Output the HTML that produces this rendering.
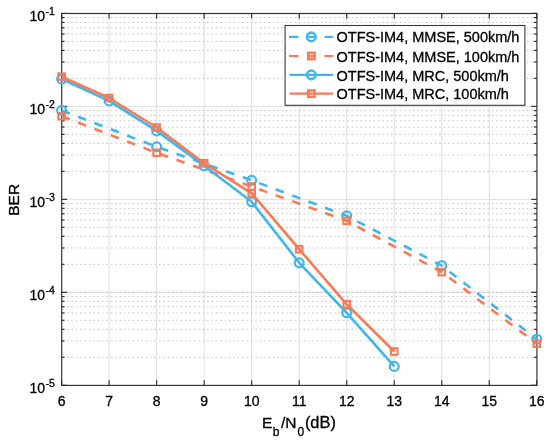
<!DOCTYPE html>
<html><head><meta charset="utf-8"><style>html,body{margin:0;padding:0;background:#fff;width:550px;height:442px;overflow:hidden}svg{display:block}</style></head>
<body>
<svg width="550" height="442" viewBox="0 0 550 442">
<rect width="550" height="442" fill="#fff"/>
<g stroke="#DEDEDE" stroke-width="1"><line x1="61.60" y1="292.32" x2="536.80" y2="292.32"/><line x1="61.60" y1="199.35" x2="536.80" y2="199.35"/><line x1="61.60" y1="106.38" x2="536.80" y2="106.38"/><line x1="109.12" y1="13.40" x2="109.12" y2="385.30"/><line x1="156.64" y1="13.40" x2="156.64" y2="385.30"/><line x1="204.16" y1="13.40" x2="204.16" y2="385.30"/><line x1="251.68" y1="13.40" x2="251.68" y2="385.30"/><line x1="299.20" y1="13.40" x2="299.20" y2="385.30"/><line x1="346.72" y1="13.40" x2="346.72" y2="385.30"/><line x1="394.24" y1="13.40" x2="394.24" y2="385.30"/><line x1="441.76" y1="13.40" x2="441.76" y2="385.30"/><line x1="489.28" y1="13.40" x2="489.28" y2="385.30"/></g>
<g stroke="#C4C4C4" stroke-width="1" stroke-dasharray="1.6 2.78"><line x1="62.52" y1="357.31" x2="536.80" y2="357.31"/><line x1="62.52" y1="340.94" x2="536.80" y2="340.94"/><line x1="62.52" y1="329.32" x2="536.80" y2="329.32"/><line x1="62.52" y1="320.31" x2="536.80" y2="320.31"/><line x1="62.52" y1="312.95" x2="536.80" y2="312.95"/><line x1="62.52" y1="306.73" x2="536.80" y2="306.73"/><line x1="62.52" y1="301.34" x2="536.80" y2="301.34"/><line x1="62.52" y1="296.58" x2="536.80" y2="296.58"/><line x1="62.52" y1="264.34" x2="536.80" y2="264.34"/><line x1="62.52" y1="247.96" x2="536.80" y2="247.96"/><line x1="62.52" y1="236.35" x2="536.80" y2="236.35"/><line x1="62.52" y1="227.34" x2="536.80" y2="227.34"/><line x1="62.52" y1="219.98" x2="536.80" y2="219.98"/><line x1="62.52" y1="213.75" x2="536.80" y2="213.75"/><line x1="62.52" y1="208.36" x2="536.80" y2="208.36"/><line x1="62.52" y1="203.60" x2="536.80" y2="203.60"/><line x1="62.52" y1="171.36" x2="536.80" y2="171.36"/><line x1="62.52" y1="154.99" x2="536.80" y2="154.99"/><line x1="62.52" y1="143.37" x2="536.80" y2="143.37"/><line x1="62.52" y1="134.36" x2="536.80" y2="134.36"/><line x1="62.52" y1="127.00" x2="536.80" y2="127.00"/><line x1="62.52" y1="120.78" x2="536.80" y2="120.78"/><line x1="62.52" y1="115.39" x2="536.80" y2="115.39"/><line x1="62.52" y1="110.63" x2="536.80" y2="110.63"/><line x1="62.52" y1="78.39" x2="536.80" y2="78.39"/><line x1="62.52" y1="62.01" x2="536.80" y2="62.01"/><line x1="62.52" y1="50.40" x2="536.80" y2="50.40"/><line x1="62.52" y1="41.39" x2="536.80" y2="41.39"/><line x1="62.52" y1="34.03" x2="536.80" y2="34.03"/><line x1="62.52" y1="27.80" x2="536.80" y2="27.80"/><line x1="62.52" y1="22.41" x2="536.80" y2="22.41"/><line x1="62.52" y1="17.65" x2="536.80" y2="17.65"/><line x1="62.52" y1="292.32" x2="536.80" y2="292.32"/></g>
<rect x="61.7" y="13.5" width="475.20" height="371.90" fill="none" stroke="#2E2E2E" stroke-width="1.15"/>
<g stroke="#2E2E2E" stroke-width="1.15"><line x1="61.60" y1="385.30" x2="61.60" y2="380.30"/><line x1="61.60" y1="13.40" x2="61.60" y2="18.40"/><line x1="109.12" y1="385.30" x2="109.12" y2="380.30"/><line x1="109.12" y1="13.40" x2="109.12" y2="18.40"/><line x1="156.64" y1="385.30" x2="156.64" y2="380.30"/><line x1="156.64" y1="13.40" x2="156.64" y2="18.40"/><line x1="204.16" y1="385.30" x2="204.16" y2="380.30"/><line x1="204.16" y1="13.40" x2="204.16" y2="18.40"/><line x1="251.68" y1="385.30" x2="251.68" y2="380.30"/><line x1="251.68" y1="13.40" x2="251.68" y2="18.40"/><line x1="299.20" y1="385.30" x2="299.20" y2="380.30"/><line x1="299.20" y1="13.40" x2="299.20" y2="18.40"/><line x1="346.72" y1="385.30" x2="346.72" y2="380.30"/><line x1="346.72" y1="13.40" x2="346.72" y2="18.40"/><line x1="394.24" y1="385.30" x2="394.24" y2="380.30"/><line x1="394.24" y1="13.40" x2="394.24" y2="18.40"/><line x1="441.76" y1="385.30" x2="441.76" y2="380.30"/><line x1="441.76" y1="13.40" x2="441.76" y2="18.40"/><line x1="489.28" y1="385.30" x2="489.28" y2="380.30"/><line x1="489.28" y1="13.40" x2="489.28" y2="18.40"/><line x1="536.80" y1="385.30" x2="536.80" y2="380.30"/><line x1="536.80" y1="13.40" x2="536.80" y2="18.40"/><line x1="61.60" y1="385.30" x2="67.10" y2="385.30"/><line x1="536.80" y1="385.30" x2="531.30" y2="385.30"/><line x1="61.60" y1="292.32" x2="67.10" y2="292.32"/><line x1="536.80" y1="292.32" x2="531.30" y2="292.32"/><line x1="61.60" y1="199.35" x2="67.10" y2="199.35"/><line x1="536.80" y1="199.35" x2="531.30" y2="199.35"/><line x1="61.60" y1="106.38" x2="67.10" y2="106.38"/><line x1="536.80" y1="106.38" x2="531.30" y2="106.38"/><line x1="61.60" y1="13.40" x2="67.10" y2="13.40"/><line x1="536.80" y1="13.40" x2="531.30" y2="13.40"/><line x1="61.60" y1="357.31" x2="64.60" y2="357.31"/><line x1="536.80" y1="357.31" x2="533.80" y2="357.31"/><line x1="61.60" y1="340.94" x2="64.60" y2="340.94"/><line x1="536.80" y1="340.94" x2="533.80" y2="340.94"/><line x1="61.60" y1="329.32" x2="64.60" y2="329.32"/><line x1="536.80" y1="329.32" x2="533.80" y2="329.32"/><line x1="61.60" y1="320.31" x2="64.60" y2="320.31"/><line x1="536.80" y1="320.31" x2="533.80" y2="320.31"/><line x1="61.60" y1="312.95" x2="64.60" y2="312.95"/><line x1="536.80" y1="312.95" x2="533.80" y2="312.95"/><line x1="61.60" y1="306.73" x2="64.60" y2="306.73"/><line x1="536.80" y1="306.73" x2="533.80" y2="306.73"/><line x1="61.60" y1="301.34" x2="64.60" y2="301.34"/><line x1="536.80" y1="301.34" x2="533.80" y2="301.34"/><line x1="61.60" y1="296.58" x2="64.60" y2="296.58"/><line x1="536.80" y1="296.58" x2="533.80" y2="296.58"/><line x1="61.60" y1="264.34" x2="64.60" y2="264.34"/><line x1="536.80" y1="264.34" x2="533.80" y2="264.34"/><line x1="61.60" y1="247.96" x2="64.60" y2="247.96"/><line x1="536.80" y1="247.96" x2="533.80" y2="247.96"/><line x1="61.60" y1="236.35" x2="64.60" y2="236.35"/><line x1="536.80" y1="236.35" x2="533.80" y2="236.35"/><line x1="61.60" y1="227.34" x2="64.60" y2="227.34"/><line x1="536.80" y1="227.34" x2="533.80" y2="227.34"/><line x1="61.60" y1="219.98" x2="64.60" y2="219.98"/><line x1="536.80" y1="219.98" x2="533.80" y2="219.98"/><line x1="61.60" y1="213.75" x2="64.60" y2="213.75"/><line x1="536.80" y1="213.75" x2="533.80" y2="213.75"/><line x1="61.60" y1="208.36" x2="64.60" y2="208.36"/><line x1="536.80" y1="208.36" x2="533.80" y2="208.36"/><line x1="61.60" y1="203.60" x2="64.60" y2="203.60"/><line x1="536.80" y1="203.60" x2="533.80" y2="203.60"/><line x1="61.60" y1="171.36" x2="64.60" y2="171.36"/><line x1="536.80" y1="171.36" x2="533.80" y2="171.36"/><line x1="61.60" y1="154.99" x2="64.60" y2="154.99"/><line x1="536.80" y1="154.99" x2="533.80" y2="154.99"/><line x1="61.60" y1="143.37" x2="64.60" y2="143.37"/><line x1="536.80" y1="143.37" x2="533.80" y2="143.37"/><line x1="61.60" y1="134.36" x2="64.60" y2="134.36"/><line x1="536.80" y1="134.36" x2="533.80" y2="134.36"/><line x1="61.60" y1="127.00" x2="64.60" y2="127.00"/><line x1="536.80" y1="127.00" x2="533.80" y2="127.00"/><line x1="61.60" y1="120.78" x2="64.60" y2="120.78"/><line x1="536.80" y1="120.78" x2="533.80" y2="120.78"/><line x1="61.60" y1="115.39" x2="64.60" y2="115.39"/><line x1="536.80" y1="115.39" x2="533.80" y2="115.39"/><line x1="61.60" y1="110.63" x2="64.60" y2="110.63"/><line x1="536.80" y1="110.63" x2="533.80" y2="110.63"/><line x1="61.60" y1="78.39" x2="64.60" y2="78.39"/><line x1="536.80" y1="78.39" x2="533.80" y2="78.39"/><line x1="61.60" y1="62.01" x2="64.60" y2="62.01"/><line x1="536.80" y1="62.01" x2="533.80" y2="62.01"/><line x1="61.60" y1="50.40" x2="64.60" y2="50.40"/><line x1="536.80" y1="50.40" x2="533.80" y2="50.40"/><line x1="61.60" y1="41.39" x2="64.60" y2="41.39"/><line x1="536.80" y1="41.39" x2="533.80" y2="41.39"/><line x1="61.60" y1="34.03" x2="64.60" y2="34.03"/><line x1="536.80" y1="34.03" x2="533.80" y2="34.03"/><line x1="61.60" y1="27.80" x2="64.60" y2="27.80"/><line x1="536.80" y1="27.80" x2="533.80" y2="27.80"/><line x1="61.60" y1="22.41" x2="64.60" y2="22.41"/><line x1="536.80" y1="22.41" x2="533.80" y2="22.41"/><line x1="61.60" y1="17.65" x2="64.60" y2="17.65"/><line x1="536.80" y1="17.65" x2="533.80" y2="17.65"/></g>
<polyline points="61.60,110.40 156.64,146.80 251.68,180.30 346.72,215.80 441.76,265.60 536.80,339.20" fill="none" stroke="#3FB7ED" stroke-width="2.6" stroke-dasharray="8.65 8.9" stroke-linejoin="round"/>
<circle cx="61.60" cy="110.40" r="4.45" fill="none" stroke="#3FB7ED" stroke-width="2.2"/><circle cx="156.64" cy="146.80" r="4.45" fill="none" stroke="#3FB7ED" stroke-width="2.2"/><circle cx="251.68" cy="180.30" r="4.45" fill="none" stroke="#3FB7ED" stroke-width="2.2"/><circle cx="346.72" cy="215.80" r="4.45" fill="none" stroke="#3FB7ED" stroke-width="2.2"/><circle cx="441.76" cy="265.60" r="4.45" fill="none" stroke="#3FB7ED" stroke-width="2.2"/><circle cx="536.80" cy="339.20" r="4.45" fill="none" stroke="#3FB7ED" stroke-width="2.2"/>
<polyline points="61.60,116.20 156.64,152.80 251.68,186.50 346.72,220.90 441.76,272.10 536.80,343.70" fill="none" stroke="#F97A54" stroke-width="2.6" stroke-dasharray="8.65 8.9" stroke-linejoin="round"/>
<rect x="58.35" y="112.95" width="6.5" height="6.5" fill="none" stroke="#F97A54" stroke-width="2.1"/><rect x="153.39" y="149.55" width="6.5" height="6.5" fill="none" stroke="#F97A54" stroke-width="2.1"/><rect x="248.43" y="183.25" width="6.5" height="6.5" fill="none" stroke="#F97A54" stroke-width="2.1"/><rect x="343.47" y="217.65" width="6.5" height="6.5" fill="none" stroke="#F97A54" stroke-width="2.1"/><rect x="438.51" y="268.85" width="6.5" height="6.5" fill="none" stroke="#F97A54" stroke-width="2.1"/><rect x="533.55" y="340.45" width="6.5" height="6.5" fill="none" stroke="#F97A54" stroke-width="2.1"/>
<polyline points="61.60,79.00 109.12,100.90 156.64,130.90 204.16,165.80 251.68,201.80 299.20,262.80 346.72,312.80 394.24,366.40" fill="none" stroke="#3FB7ED" stroke-width="2.6" stroke-linejoin="round"/>
<circle cx="61.60" cy="79.00" r="4.45" fill="none" stroke="#3FB7ED" stroke-width="2.2"/><circle cx="109.12" cy="100.90" r="4.45" fill="none" stroke="#3FB7ED" stroke-width="2.2"/><circle cx="156.64" cy="130.90" r="4.45" fill="none" stroke="#3FB7ED" stroke-width="2.2"/><circle cx="204.16" cy="165.80" r="4.45" fill="none" stroke="#3FB7ED" stroke-width="2.2"/><circle cx="251.68" cy="201.80" r="4.45" fill="none" stroke="#3FB7ED" stroke-width="2.2"/><circle cx="299.20" cy="262.80" r="4.45" fill="none" stroke="#3FB7ED" stroke-width="2.2"/><circle cx="346.72" cy="312.80" r="4.45" fill="none" stroke="#3FB7ED" stroke-width="2.2"/><circle cx="394.24" cy="366.40" r="4.45" fill="none" stroke="#3FB7ED" stroke-width="2.2"/>
<polyline points="61.60,76.60 109.12,98.00 156.64,127.50 204.16,163.20 251.68,193.30 299.20,249.20 346.72,304.30 394.24,351.50" fill="none" stroke="#F97A54" stroke-width="2.6" stroke-linejoin="round"/>
<rect x="58.35" y="73.35" width="6.5" height="6.5" fill="none" stroke="#F97A54" stroke-width="2.1"/><rect x="105.87" y="94.75" width="6.5" height="6.5" fill="none" stroke="#F97A54" stroke-width="2.1"/><rect x="153.39" y="124.25" width="6.5" height="6.5" fill="none" stroke="#F97A54" stroke-width="2.1"/><rect x="200.91" y="159.95" width="6.5" height="6.5" fill="none" stroke="#F97A54" stroke-width="2.1"/><rect x="248.43" y="190.05" width="6.5" height="6.5" fill="none" stroke="#F97A54" stroke-width="2.1"/><rect x="295.95" y="245.95" width="6.5" height="6.5" fill="none" stroke="#F97A54" stroke-width="2.1"/><rect x="343.47" y="301.05" width="6.5" height="6.5" fill="none" stroke="#F97A54" stroke-width="2.1"/><rect x="390.99" y="348.25" width="6.5" height="6.5" fill="none" stroke="#F97A54" stroke-width="2.1"/>
<g font-family="&quot;Liberation Sans&quot;, sans-serif" stroke="#000" stroke-width="0.3" font-size="14" fill="#000"><text x="61.60" y="406.2" text-anchor="middle">6</text><text x="109.12" y="406.2" text-anchor="middle">7</text><text x="156.64" y="406.2" text-anchor="middle">8</text><text x="204.16" y="406.2" text-anchor="middle">9</text><text x="251.68" y="406.2" text-anchor="middle">10</text><text x="299.20" y="406.2" text-anchor="middle">11</text><text x="346.72" y="406.2" text-anchor="middle">12</text><text x="394.24" y="406.2" text-anchor="middle">13</text><text x="441.76" y="406.2" text-anchor="middle">14</text><text x="489.28" y="406.2" text-anchor="middle">15</text><text x="536.80" y="406.2" text-anchor="middle">16</text></g>
<g font-family="&quot;Liberation Sans&quot;, sans-serif" stroke="#000" stroke-width="0.3" font-size="14" fill="#000"><text x="45.0" y="392.70" text-anchor="end">10</text><text x="45.6" y="386.80" font-size="10.5">-5</text><text x="45.0" y="299.72" text-anchor="end">10</text><text x="45.6" y="293.82" font-size="10.5">-4</text><text x="45.0" y="206.75" text-anchor="end">10</text><text x="45.6" y="200.85" font-size="10.5">-3</text><text x="45.0" y="113.78" text-anchor="end">10</text><text x="45.6" y="107.88" font-size="10.5">-2</text><text x="45.0" y="20.80" text-anchor="end">10</text><text x="45.6" y="14.90" font-size="10.5">-1</text></g>
<text font-family="&quot;Liberation Sans&quot;, sans-serif" stroke="#000" stroke-width="0.3" font-size="15.5" y="428"><tspan x="262.0">E</tspan><tspan font-size="12" x="272.8" y="435.5">b</tspan><tspan x="280.9" y="428">/N</tspan><tspan font-size="12" x="297.4" y="435.5">0</tspan><tspan x="304.9" y="428" font-size="16.4">(dB)</tspan></text>
<text font-family="&quot;Liberation Sans&quot;, sans-serif" stroke="#000" stroke-width="0.3" font-size="15.5" transform="translate(18.9,199.8) rotate(-90)" text-anchor="middle">BER</text>
<rect x="285.1" y="25.5" width="239.8" height="79.8" fill="#fff" stroke="#3A3A3A" stroke-width="1.1"/>
<g stroke="#3FB7ED" stroke-width="2.2"><line x1="289" y1="36.9" x2="298.5" y2="36.9"/><line x1="308.3" y1="36.9" x2="314.3" y2="36.9"/><line x1="324.5" y1="36.9" x2="333.3" y2="36.9"/></g>
<circle cx="311.3" cy="36.9" r="4.3" fill="none" stroke="#3FB7ED" stroke-width="2.6"/>
<text font-family="&quot;Liberation Sans&quot;, sans-serif" stroke="#000" stroke-width="0.3" font-size="14.5" x="336.5" y="41.9" fill="#000">OTFS-IM4, MMSE, 500km/h</text>
<g stroke="#F97A54" stroke-width="2.2"><line x1="289" y1="56.0" x2="298.5" y2="56.0"/><line x1="308.3" y1="56.0" x2="314.3" y2="56.0"/><line x1="324.5" y1="56.0" x2="333.3" y2="56.0"/></g>
<rect x="308.2" y="52.8" width="6.4" height="6.4" fill="none" stroke="#F97A54" stroke-width="2.5"/>
<text font-family="&quot;Liberation Sans&quot;, sans-serif" stroke="#000" stroke-width="0.3" font-size="14.5" x="336.5" y="61.6" fill="#000">OTFS-IM4, MMSE, 100km/h</text>
<line x1="289.5" y1="74.85" x2="333.1" y2="74.85" stroke="#3FB7ED" stroke-width="2.2"/>
<circle cx="311.3" cy="74.85" r="4.3" fill="none" stroke="#3FB7ED" stroke-width="2.6"/>
<text font-family="&quot;Liberation Sans&quot;, sans-serif" stroke="#000" stroke-width="0.3" font-size="14.5" x="336.5" y="80.6" fill="#000">OTFS-IM4, MRC, 500km/h</text>
<line x1="289.5" y1="93.7" x2="333.1" y2="93.7" stroke="#F97A54" stroke-width="2.2"/>
<rect x="308.2" y="90.5" width="6.4" height="6.4" fill="none" stroke="#F97A54" stroke-width="2.5"/>
<text font-family="&quot;Liberation Sans&quot;, sans-serif" stroke="#000" stroke-width="0.3" font-size="14.5" x="336.5" y="99.4" fill="#000">OTFS-IM4, MRC, 100km/h</text>
</svg>
</body></html>
